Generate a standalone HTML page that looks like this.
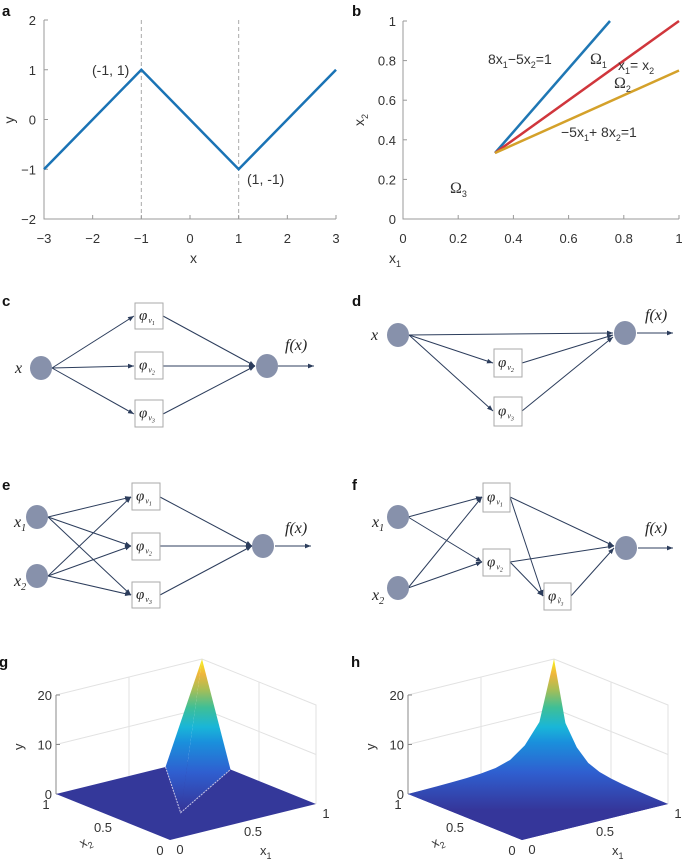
<!DOCTYPE html>
<html><head><meta charset="utf-8"><style>
html,body{margin:0;padding:0;background:#fff}
svg{display:block;font-family:"Liberation Sans Narrow","Liberation Sans",sans-serif}
.t{font-size:13px;fill:#333}
.lbl{font-family:"Liberation Sans",sans-serif;font-weight:bold;font-size:15px;fill:#111}
.it{font-family:"Liberation Serif",serif;font-style:italic;fill:#222}
.ax{stroke:#999;stroke-width:1;fill:none}
.ed{stroke:#2c3d5c;stroke-width:1;fill:none}
.bx{fill:#fff;stroke:#aaa;stroke-width:1}
.nd{fill:#8791ab}
.gr{stroke:#e2e2e2;stroke-width:1;fill:none}
</style></head><body>
<svg id="fig" width="685" height="862" viewBox="0 0 685 862" xmlns="http://www.w3.org/2000/svg">
<defs>
<marker id="ar" viewBox="0 0 10 10" refX="10" refY="5" markerWidth="6" markerHeight="6" orient="auto"><path d="M0,1 L10,5 L0,9 z" fill="#2c3d5c"/></marker>
</defs>
<g id="pa"></g>
<g id="pb"></g>
<g id="net"></g>
<g id="pg"></g>
<g id="ph"></g>
</svg>
<script>
// ---- panel a data ----
const aX = [-3, -1, 1, 3];
const aY = [-1, 1, -1, 1];
const aXTicks = [-3, -2, -1, 0, 1, 2, 3];
const aYTicks = [-2, -1, 0, 1, 2];
// ---- panel b data ----
const bStart = [1/3, 1/3];
const bEndX = [0.75, 1, 1];
const bEndY = [1, 1, 0.75];
const bColors = ['#1f77b4', '#d0363c', '#d4a12a'];
const bTicks = [0, 0.2, 0.4, 0.6, 0.8, 1];
const bTickLabels = ['0', '0.2', '0.4', '0.6', '0.8', '1'];
// ---- panel g data: ridge surface faces (x1, x2, y) ----
const gFaceA = [[1/3,1/3,0],[1,0.75,0],[1,1,20]];
const gFaceB = [[1/3,1/3,0],[0.75,1,0],[1,1,20]];
// ---- panel h data: heights along back edges, x from 0 to 1 step 0.1 ----
const hEdge = [0, 0.05, 0.1, 0.2, 0.3, 0.5, 0.9, 1.8, 4, 8, 20];
const zTicks = [0, 10, 20];

const NS = 'http://www.w3.org/2000/svg';
function mk(parent, tag, attrs, text) {
  const e = document.createElementNS(NS, tag);
  for (const k in attrs) e.setAttribute(k, attrs[k]);
  if (text !== undefined) e.textContent = text;
  parent.appendChild(e);
  return e;
}

// ===== Panel a =====
(function(){
  const g = document.getElementById('pa');
  const sx = v => 44 + (v + 3) / 6 * 292;
  const sy = v => 219 - (v + 2) / 4 * 199;
  let e = mk(g, 'text', {x: 2, y: 16, class: 'lbl'}, 'a');
   
  e = mk(g, 'path', {d: `M${sx(-3)},${sy(2)} V${sy(-2)} H${sx(3)}`, class: 'ax'});
   
  [-1, 1].forEach(v => {
    const l = mk(g, 'line', {x1: sx(v), x2: sx(v), y1: sy(2), y2: sy(-2), stroke: '#aaa', 'stroke-dasharray': '4,3'});
     
  });
  aXTicks.forEach(v => {
    mk(g, 'line', {x1: sx(v), x2: sx(v), y1: sy(-2), y2: sy(-2) - 4, stroke: '#999'});
    const t = mk(g, 'text', {x: sx(v), y: 243, class: 't', 'text-anchor': 'middle'}, v < 0 ? '\u2212' + Math.abs(v) : v);
     
  });
  aYTicks.forEach(v => {
    mk(g, 'line', {x1: sx(-3), x2: sx(-3) + 4, y1: sy(v), y2: sy(v), stroke: '#999'});
    const t = mk(g, 'text', {x: 36, y: sy(v) + 5, class: 't', 'text-anchor': 'end'}, v < 0 ? '\u2212' + Math.abs(v) : v);
     
  });
  e = mk(g, 'polyline', {points: aX.map((x, i) => sx(x) + ',' + sy(aY[i])).join(' '), fill: 'none', stroke: '#1a73b5', 'stroke-width': 2.5});
   
  e = mk(g, 'text', {x: 92, y: 75, class: 't', style: 'font-size:14px'}, '(-1, 1)');
   
  e = mk(g, 'text', {x: 247, y: 184, class: 't', style: 'font-size:14px'}, '(1, -1)');
   
  e = mk(g, 'text', {x: 190, y: 263, class: 't', style: 'font-size:14px'}, 'x');
   
  e = mk(g, 'text', {x: 14, y: 120, class: 't', style: 'font-size:14px', transform: 'rotate(-90 14 120)', 'text-anchor': 'middle'}, 'y');
   
})();

// ===== Panel b =====
(function(){
  const g = document.getElementById('pb');
  const sx = v => 403 + v * 276;
  const sy = v => 219 - v * 198;
  let e = mk(g, 'text', {x: 352, y: 16, class: 'lbl'}, 'b');
   
  e = mk(g, 'path', {d: `M${sx(0)},${sy(1)} V${sy(0)} H${sx(1)}`, class: 'ax'});
   
  bTicks.forEach((v, i) => {
    mk(g, 'line', {x1: sx(v), x2: sx(v), y1: sy(0), y2: sy(0) - 4, stroke: '#999'});
    let t = mk(g, 'text', {x: sx(v), y: 243, class: 't', 'text-anchor': 'middle'}, bTickLabels[i]);
     
    mk(g, 'line', {x1: sx(0), x2: sx(0) + 4, y1: sy(v), y2: sy(v), stroke: '#999'});
    t = mk(g, 'text', {x: 396, y: sy(v) + 5, class: 't', 'text-anchor': 'end'}, bTickLabels[i]);
     
  });
  bEndX.forEach((x, i) => {
    const l = mk(g, 'line', {x1: sx(bStart[0]), y1: sy(bStart[1]), x2: sx(x), y2: sy(bEndY[i]), stroke: bColors[i], 'stroke-width': 2.5});
     
  });
  const txt = (x, y, html, name) => {
    const t = mk(g, 'text', {x: x, y: y, class: 't', style: 'font-size:14px'});
    t.innerHTML = html;
     
  };
  const sub = s => `<tspan dy="4" font-size="9">${s}</tspan><tspan dy="-4">`;
  txt(488, 64, '8x' + sub('1') + '\u22125x' + sub('2') + '=1</tspan></tspan>', 'equation-blue');
  txt(590, 64, '<tspan font-family="Liberation Serif" font-size="16">\u03A9</tspan><tspan dy="4" font-size="9">1</tspan>', 'region-omega-1');
  txt(618, 70, 'x' + sub('1') + '= x</tspan><tspan dy="4" font-size="9">2</tspan>', 'equation-red');
  txt(614, 88, '<tspan font-family="Liberation Serif" font-size="16">\u03A9</tspan><tspan dy="4" font-size="9">2</tspan>', 'region-omega-2');
  txt(561, 137, '\u22125x' + sub('1') + '+ 8x</tspan><tspan dy="4" font-size="9">2</tspan><tspan dy="-4">=1</tspan>', 'equation-yellow');
  txt(450, 193, '<tspan font-family="Liberation Serif" font-size="16">\u03A9</tspan><tspan dy="4" font-size="9">3</tspan>', 'region-omega-3');
  txt(389, 263, 'x<tspan dy="4" font-size="9">1</tspan>', 'x-axis-title');
  e = mk(g, 'text', {x: 364, y: 126, class: 't', style: 'font-size:14px', transform: 'rotate(-90 364 126)'});
  e.innerHTML = 'x<tspan dy="4" font-size="9">2</tspan>';
   
})();

// ===== Network diagrams =====
(function(){
  const g = document.getElementById('net');
  function node(x, y, name) {
    const c = mk(g, 'ellipse', {cx: x, cy: y, rx: 11, ry: 12, class: 'nd'});
     
  }
  function box(x, y, w, h, sub, name) {
    const gg = mk(g, 'g', {});
     
    mk(gg, 'rect', {x: x, y: y, width: w, height: h, class: 'bx'});
    const t = mk(gg, 'text', {x: x + 4, y: y + h / 2 + 4, class: 'it', 'font-size': 15});
    t.innerHTML = '\u03C6<tspan font-size="8" dy="3" dx="1">' + sub + '</tspan>';
  }
  function edge(x1, y1, x2, y2) {
    const l = mk(g, 'line', {x1: x1, y1: y1, x2: x2, y2: y2, class: 'ed', 'marker-end': 'url(#ar)'});
     
  }
  function label(x, y, html, size, name) {
    const t = mk(g, 'text', {x: x, y: y, class: 'it', 'font-size': size});
    t.innerHTML = html;
     
  }
  function panelLabel(x, y, s) {
    const t = mk(g, 'text', {x: x, y: y, class: 'lbl'}, s);
     
  }
  const v = i => 'v<tspan font-size="6" dy="2">' + i + '</tspan>';
  // c
  panelLabel(2, 306, 'c');
  edge(52, 368, 134, 316); edge(52, 368, 134, 366); edge(52, 368, 134, 414);
  edge(163, 316, 255, 366); edge(163, 366, 255, 366); edge(163, 414, 255, 366);
  edge(278, 366, 314, 366);
  node(41, 368, 'input-node'); node(267, 366, 'output-node');
  box(135, 303, 28, 26, v(1), 'basis-box-1'); box(135, 352, 28, 27, v(2), 'basis-box-2'); box(135, 400, 28, 27, v(3), 'basis-box-3');
  label(15, 373, 'x', 16, 'input-label'); label(285, 350, 'f(x)', 16, 'output-label');
  // d
  panelLabel(352, 306, 'd');
  edge(409, 335, 613, 333); edge(409, 335, 493, 363); edge(409, 335, 493, 411);
  edge(522, 363, 613, 335); edge(522, 411, 613, 337);
  edge(637, 333, 673, 333);
  node(398, 335, 'input-node'); node(625, 333, 'output-node');
  box(494, 349, 28, 28, v(2), 'basis-box-2'); box(494, 397, 28, 29, v(3), 'basis-box-3');
  label(371, 340, 'x', 16, 'input-label'); label(645, 320, 'f(x)', 16, 'output-label');
  // e
  panelLabel(2, 490, 'e');
  [517, 576].forEach(y => { edge(48, y, 131, 497); edge(48, y, 131, 546); edge(48, y, 131, 595); });
  edge(160, 497, 252, 546); edge(160, 546, 252, 546); edge(160, 595, 252, 546);
  edge(275, 546, 311, 546);
  node(37, 517, 'input-node-1'); node(37, 576, 'input-node-2'); node(263, 546, 'output-node');
  box(132, 483, 28, 27, v(1), 'basis-box-1'); box(132, 533, 28, 27, v(2), 'basis-box-2'); box(132, 582, 28, 26, v(3), 'basis-box-3');
  label(14, 527, 'x<tspan font-size="10" dy="4">1</tspan>', 16, 'input-label-1');
  label(14, 586, 'x<tspan font-size="10" dy="4">2</tspan>', 16, 'input-label-2');
  label(285, 533, 'f(x)', 16, 'output-label');
  // f
  panelLabel(352, 490, 'f');
  [517, 588].forEach(y => { edge(408, y, 482, 497); edge(408, y, 482, 562); });
  edge(510, 497, 614, 546); edge(510, 497, 543, 596);
  edge(510, 562, 614, 546); edge(510, 562, 543, 596);
  edge(571, 596, 614, 548);
  edge(638, 548, 673, 548);
  node(398, 517, 'input-node-1'); node(398, 588, 'input-node-2'); node(626, 548, 'output-node');
  box(483, 483, 27, 29, v(1), 'basis-box-1'); box(483, 549, 27, 27, v(2), 'basis-box-2');
  box(544, 583, 27, 27, '\u1E7D<tspan font-size="5" dy="2">3</tspan>', 'basis-box-3');
  label(372, 527, 'x<tspan font-size="10" dy="4">1</tspan>', 16, 'input-label-1');
  label(372, 600, 'x<tspan font-size="10" dy="4">2</tspan>', 16, 'input-label-2');
  label(645, 533, 'f(x)', 16, 'output-label');
})();

// ===== 3D panels =====
const parula = [[0,'#35369a'],[0.25,'#2f5fd0'],[0.45,'#1a90dc'],[0.55,'#19b6d8'],[0.68,'#3fbf96'],[0.8,'#a9be55'],[0.9,'#efb53c'],[1,'#f8f51a']];
function make3D(gid, ox, oy, letter, drawSurface) {
  const g = document.getElementById(gid);
  const P = (x1, x2, z) => [ox + 146 * x1 - 114 * x2, oy - 36 * x1 - 46 * x2 - z * 4.95];
  const pt = a => a.join(',');
  let e = mk(g, 'text', {x: ox - 171, y: 667, class: 'lbl'}, letter);
   
  const walls = mk(g, 'g', {});
   
  mk(walls, 'polyline', {class: 'gr', points: [P(0,1,20), P(1,1,20), P(1,0,20), P(1,0,0)].map(pt).join(' ')});
  mk(walls, 'polyline', {class: 'gr', points: [P(0,1,10), P(1,1,10), P(1,0,10)].map(pt).join(' ')});
  mk(walls, 'line', {class: 'gr', x1: P(1,1,0)[0], y1: P(1,1,0)[1], x2: P(1,1,20)[0], y2: P(1,1,20)[1]});
  mk(walls, 'line', {class: 'gr', x1: P(0.5,1,0)[0], y1: P(0.5,1,0)[1], x2: P(0.5,1,20)[0], y2: P(0.5,1,20)[1]});
  mk(walls, 'line', {class: 'gr', x1: P(1,0.5,0)[0], y1: P(1,0.5,0)[1], x2: P(1,0.5,20)[0], y2: P(1,0.5,20)[1]});
  e = mk(g, 'line', {x1: P(0,1,0)[0], y1: P(0,1,0)[1], x2: P(0,1,20)[0], y2: P(0,1,20)[1], stroke: '#888'});
   
  zTicks.forEach(z => {
    const p = P(0,1,z);
    mk(g, 'line', {x1: p[0], y1: p[1], x2: p[0] + 4, y2: p[1], stroke: '#888'});
    const t = mk(g, 'text', {x: p[0] - 4, y: p[1] + 5, class: 't', 'text-anchor': 'end', 'font-size': 14}, z);
     
  });
  const grad = mk(g, 'linearGradient', {id: 'grad' + gid, gradientUnits: 'userSpaceOnUse', x1: 0, x2: 0, y1: P(0,0,0)[1] - 30, y2: P(1,1,20)[1]});
  parula.forEach(s => mk(grad, 'stop', {offset: s[0], 'stop-color': s[1]}));
  e = mk(g, 'polygon', {points: [P(0,0,0), P(1,0,0), P(1,1,0), P(0,1,0)].map(pt).join(' '), fill: '#34389a'});
   
  drawSurface(g, P, pt, 'url(#grad' + gid + ')');
  const lab = (x, y, s, name) => { const t = mk(g, 'text', {x: x, y: y, class: 't', 'font-size': 14, 'text-anchor': 'middle'}, s);   };
  [[1,'1'],[0.5,'0.5'],[0,'0']].forEach(a => { const p = P(0, a[0], 0); lab(p[0] - 10, p[1] + 15, a[1], 'x2-tick-label'); });
  [[0,'0'],[0.5,'0.5'],[1,'1']].forEach(a => { const p = P(a[0], 0, 0); lab(p[0] + 10, p[1] + 14, a[1], 'x1-tick-label'); });
  let t = mk(g, 'text', {x: ox - 88, y: 848, class: 't', 'font-size': 14, transform: `rotate(-25 ${ox - 88} 848)`});
  t.innerHTML = 'x<tspan dy="4" font-size="9">2</tspan>';
   
  t = mk(g, 'text', {x: ox + 90, y: 855, class: 't', 'font-size': 14});
  t.innerHTML = 'x<tspan dy="4" font-size="9">1</tspan>';
   
  t = mk(g, 'text', {x: ox - 147, y: 750, class: 't', 'font-size': 15, transform: `rotate(-90 ${ox - 147} 750)`}, 'y');
   
}
make3D('pg', 170, 840, 'g', (g, P, pt, fill) => {
  [gFaceA, gFaceB].forEach((f, i) => {
    const e = mk(g, 'polygon', {points: f.map(v => pt(P(v[0], v[1], v[2]))).join(' '), fill: fill});
     
  });
  const base = mk(g, 'polyline', {points: [gFaceB[1], gFaceA[0], gFaceA[1]].map(v => pt(P(v[0], v[1], 0))).join(' '), fill: 'none', stroke: '#c9c6e6', 'stroke-width': 1, 'stroke-dasharray': '2,1'});
   
});
make3D('ph', 522, 840, 'h', (g, P, pt, fill) => {
  const n = hEdge.length - 1;
  const left = hEdge.map((z, i) => P(i / n, 1, z));
  const right = hEdge.map((z, i) => P(1, i / n, z)).reverse();
  const e = mk(g, 'polygon', {points: [P(0,0,0)].concat(left, right).map(pt).join(' '), fill: fill});
   
});
</script>
</body></html>
